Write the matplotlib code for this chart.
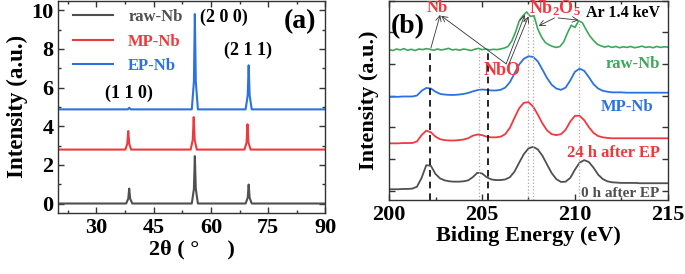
import numpy as np
import matplotlib
matplotlib.use('Agg')
import matplotlib.pyplot as plt
from matplotlib.ticker import MultipleLocator

plt.rcParams['font.family'] = ['Liberation Serif', 'DejaVu Serif']
plt.rcParams['font.weight'] = 'bold'
plt.rcParams['mathtext.fontset'] = 'custom'
plt.rcParams['mathtext.rm'] = 'Liberation Serif'
plt.rcParams['mathtext.bf'] = 'Liberation Serif:bold'

GRAY = '#505050'
RED = '#ee3a3f'
BLUE = '#2b72e0'
GREEN = '#3ca85a'

# ---- (a) XRD patterns: peak points ----
xrd_labels = ['raw-Nb', 'MP-Nb', 'EP-Nb']
xrd_raw_x = [20, 37.8, 38.35, 38.6, 38.85, 39.4, 55.0, 55.55, 55.8, 56.05, 56.6, 69.1, 69.65, 69.9, 70.15, 70.7, 90]
xrd_raw_y = [0.0, 0.0, 0.25, 0.77, 0.25, 0.0, 0.0, 0.75, 2.45, 0.75, 0.0, 0.0, 0.3, 0.98, 0.3, 0.0, 0.0]
xrd_mp_x = [20, 37.6, 38.1, 38.35, 38.6, 39.1, 54.7, 55.25, 55.5, 55.75, 56.3, 68.8, 69.35, 69.6, 69.85, 70.4, 90]
xrd_mp_y = [2.79, 2.79, 3.1, 3.75, 3.1, 2.79, 2.79, 3.3, 4.47, 3.3, 2.79, 2.79, 3.15, 4.1, 3.15, 2.79, 2.79]
xrd_ep_x = [20, 38.2, 38.6, 39.0, 55.0, 55.55, 55.8, 56.05, 56.6, 69.1, 69.65, 69.9, 70.15, 70.7, 90]
xrd_ep_y = [4.87, 4.87, 4.95, 4.87, 4.87, 6.3, 9.8, 6.3, 4.87, 4.87, 5.6, 7.15, 5.6, 4.87, 4.87]
hkl_labels = ['(1 1 0)', '(2 0 0)', '(2 1 1)']
hkl_pos = [(38.5, 5.7), (63.4, 9.65), (69.8, 7.9)]

# ---- (b) XPS Nb 3d spectra ----
grid_fine = np.linspace(200, 215, 61)      # 0.25 eV steps
grid_raw = np.linspace(200, 215, 76)       # 0.2 eV steps
xps_0h = [0.04, 0.04, 0.04, 0.05, 0.05, 0.06, 0.12, 0.40, 0.80, 0.78,
          0.52, 0.38, 0.32, 0.29, 0.28, 0.28, 0.29, 0.32, 0.42, 0.56,
          0.54, 0.42, 0.35, 0.33, 0.33, 0.35, 0.42, 0.60, 0.88, 1.15,
          1.33, 1.38, 1.30, 1.10, 0.82, 0.55, 0.36, 0.27, 0.28, 0.40,
          0.66, 0.88, 0.96, 0.90, 0.72, 0.50, 0.36, 0.29, 0.26, 0.25,
          0.24, 0.24, 0.24, 0.24, 0.23, 0.23, 0.23, 0.23, 0.23, 0.23, 0.23]
xps_24h = [1.49, 1.49, 1.49, 1.50, 1.50, 1.50, 1.55, 1.75, 1.89, 1.84,
           1.70, 1.62, 1.59, 1.58, 1.58, 1.59, 1.61, 1.65, 1.73, 1.77,
           1.75, 1.70, 1.68, 1.68, 1.70, 1.78, 1.98, 2.30, 2.60, 2.77,
           2.79, 2.65, 2.40, 2.12, 1.90, 1.78, 1.75, 1.78, 1.92, 2.18,
           2.36, 2.36, 2.22, 2.00, 1.82, 1.72, 1.68, 1.66, 1.65, 1.65,
           1.65, 1.65, 1.65, 1.65, 1.65, 1.65, 1.65, 1.65, 1.65, 1.65, 1.65]
xps_mp = [2.96, 2.96, 2.96, 2.97, 2.97, 2.97, 3.00, 3.15, 3.24, 3.22,
          3.12, 3.05, 3.03, 3.02, 3.02, 3.03, 3.05, 3.08, 3.13, 3.17,
          3.19, 3.18, 3.16, 3.16, 3.18, 3.25, 3.42, 3.70, 3.98, 4.16,
          4.24, 4.22, 4.08, 3.82, 3.55, 3.34, 3.22, 3.18, 3.25, 3.48,
          3.75, 3.85, 3.78, 3.58, 3.36, 3.22, 3.15, 3.12, 3.10, 3.10,
          3.10, 3.09, 3.09, 3.09, 3.09, 3.09, 3.09, 3.09, 3.09, 3.09, 3.09]
xps_raw = [4.45, 4.42, 4.47, 4.44, 4.48, 4.43, 4.46, 4.42, 4.47, 4.45,
           4.48, 4.46, 4.43, 4.47, 4.44, 4.46, 4.49, 4.44, 4.46, 4.43,
           4.47, 4.45, 4.42, 4.46, 4.49, 4.45, 4.47, 4.44, 4.46, 4.45,
           4.47, 4.50, 4.55, 4.72, 5.00, 5.35, 5.52, 5.64, 5.50, 5.52,
           5.10, 4.85, 4.68, 4.60, 4.55, 4.52, 4.55, 4.70, 4.98, 5.22,
           5.15, 5.36, 5.30, 5.08, 4.88, 4.74, 4.62, 4.57, 4.53, 4.56,
           4.52, 4.55, 4.51, 4.54, 4.52, 4.55, 4.51, 4.53, 4.56, 4.52,
           4.54, 4.51, 4.55, 4.52, 4.54, 4.53]
xps_labels = ['raw-Nb', 'MP-Nb', '24 h after EP', '0 h after EP']
metal_lines = [202.2, 205.3]
oxide_lines = [204.85, 207.5, 207.75, 210.2]

fig = plt.figure(figsize=(6.85, 2.74), dpi=100)
ax1 = fig.add_axes([0.085, 0.222, 0.39, 0.776])
ax2 = fig.add_axes([0.568, 0.27, 0.407, 0.728])

#panel (a)
ax1.plot(xrd_raw_x, xrd_raw_y, color=GRAY, lw=1.5, label=xrd_labels[0])
ax1.plot(xrd_mp_x, xrd_mp_y, color=RED, lw=1.5, label=xrd_labels[1])
ax1.plot(xrd_ep_x, xrd_ep_y, color=BLUE, lw=1.5, label=xrd_labels[2])
ax1.set_xlim(20, 90)
ax1.set_ylim(-0.5, 10.5)
ax1.xaxis.set_major_locator(MultipleLocator(15))
ax1.xaxis.set_minor_locator(MultipleLocator(7.5))
ax1.yaxis.set_major_locator(MultipleLocator(2))
ax1.yaxis.set_minor_locator(MultipleLocator(1))
for lab, (x, y) in zip(hkl_labels, hkl_pos):
    ax1.text(x, y, lab, fontsize=13, fontweight='bold', ha='center', va='center')
ax1.text(0.965, 0.96, '(a)', transform=ax1.transAxes, fontsize=20,
         fontweight='bold', ha='right', va='top')
leg = ax1.legend(loc='upper left', bbox_to_anchor=(0.0, 1.03), frameon=False,
                 handlelength=2.4, labelspacing=0.5, handletextpad=0.9,
                 prop={'weight': 'bold', 'size': 12})
for txt, c in zip(leg.get_texts(), [GRAY, RED, BLUE]):
    txt.set_color(c)
ax1.set_xlabel('2θ ( °     )', fontsize=16, fontweight='bold', labelpad=1)
ax1.set_ylabel('Intensity (a.u.)', fontsize=16.5, fontweight='bold', labelpad=2)

#panel (b)
ax2.plot(grid_fine, xps_0h, color=GRAY, lw=1.3)
ax2.plot(grid_fine, xps_24h, color=RED, lw=1.3)
ax2.plot(grid_fine, xps_mp, color=BLUE, lw=1.3)
ax2.plot(grid_raw, xps_raw, color=GREEN, lw=1.2)
for xv in metal_lines:
    ax2.plot([xv, xv], [-0.3, 4.45], color='black', ls=(0, (4, 3)), lw=1.2)
for xv, top in zip(oxide_lines, [4.45, 5.6, 5.5, 5.3]):
    ax2.plot([xv, xv], [-0.3, top], color='#aaaaaa', ls=':', lw=0.9)
ax2.set_xlim(200, 215)
ax2.set_ylim(-0.3, 6.0)
ax2.xaxis.set_major_locator(MultipleLocator(5))
ax2.xaxis.set_minor_locator(MultipleLocator(2.5))
ax2.yaxis.set_major_locator(MultipleLocator(1))
ax2.set_yticklabels([])

ax2.text(0.005, 0.93, '(b)', transform=ax2.transAxes, fontsize=20,
         fontweight='bold', ha='left', va='top')
ax2.text(202.6, 5.75, 'Nb', color=RED, fontsize=12, fontweight='bold', ha='center', va='center')
ax2.text(206.1, 3.78, 'NbO', color=RED, fontsize=13, fontweight='bold', ha='center', va='center')
ax2.text(208.95, 5.75, r'$\mathbf{Nb_2O_5}$', color=RED, fontsize=13, ha='center', va='center')
ax2.text(214.55, 5.62, 'Ar 1.4 keV', color='black', fontsize=11.5, fontweight='bold', ha='right', va='center')
ax2.text(214.6, 4.0, xps_labels[0], color=GREEN, fontsize=12, fontweight='bold', ha='right', va='center')
ax2.text(214.2, 2.65, xps_labels[1], color=BLUE, fontsize=12, fontweight='bold', ha='right', va='center')
ax2.text(214.6, 1.18, xps_labels[2], color=RED, fontsize=12, fontweight='bold', ha='right', va='center')
ax2.text(214.55, -0.08, xps_labels[3], color=GRAY, fontsize=11, fontweight='bold', ha='right', va='center')

arrow = dict(arrowstyle='->', color='#333333', lw=0.6, shrinkA=0, shrinkB=0)
ax2.annotate('', xy=(202.75, 5.55), xytext=(202.25, 4.5), arrowprops=arrow)
ax2.annotate('', xy=(202.8, 5.52), xytext=(206.3, 4.0), arrowprops=arrow)
ax2.annotate('', xy=(207.3, 5.55), xytext=(206.3, 4.0), arrowprops=arrow)
ax2.annotate('', xy=(207.5, 5.5), xytext=(206.45, 4.0), arrowprops=arrow)
ax2.annotate('', xy=(208.05, 5.2), xytext=(208.9, 5.45), arrowprops=arrow)
ax2.annotate('', xy=(210.2, 5.38), xytext=(209.1, 5.45), arrowprops=arrow)

ax2.set_xlabel('Biding Energy (eV)', fontsize=16, fontweight='bold', labelpad=1)
ax2.set_ylabel('Intensity (a.u.)', fontsize=16, fontweight='bold', labelpad=4)

for ax in (ax1, ax2):
    ax.tick_params(which='both', direction='in', top=True, right=True,
                   labelsize=16, width=1, color='#333333')
    ax.tick_params(which='major', length=4)
    ax.tick_params(which='minor', length=2)
    for sp in ax.spines.values():
        sp.set_color('#333333')
        sp.set_linewidth(1.0)
    for t in ax.get_xticklabels() + ax.get_yticklabels():
        t.set_fontweight('bold')

fig.savefig('out.png', dpi=100)
